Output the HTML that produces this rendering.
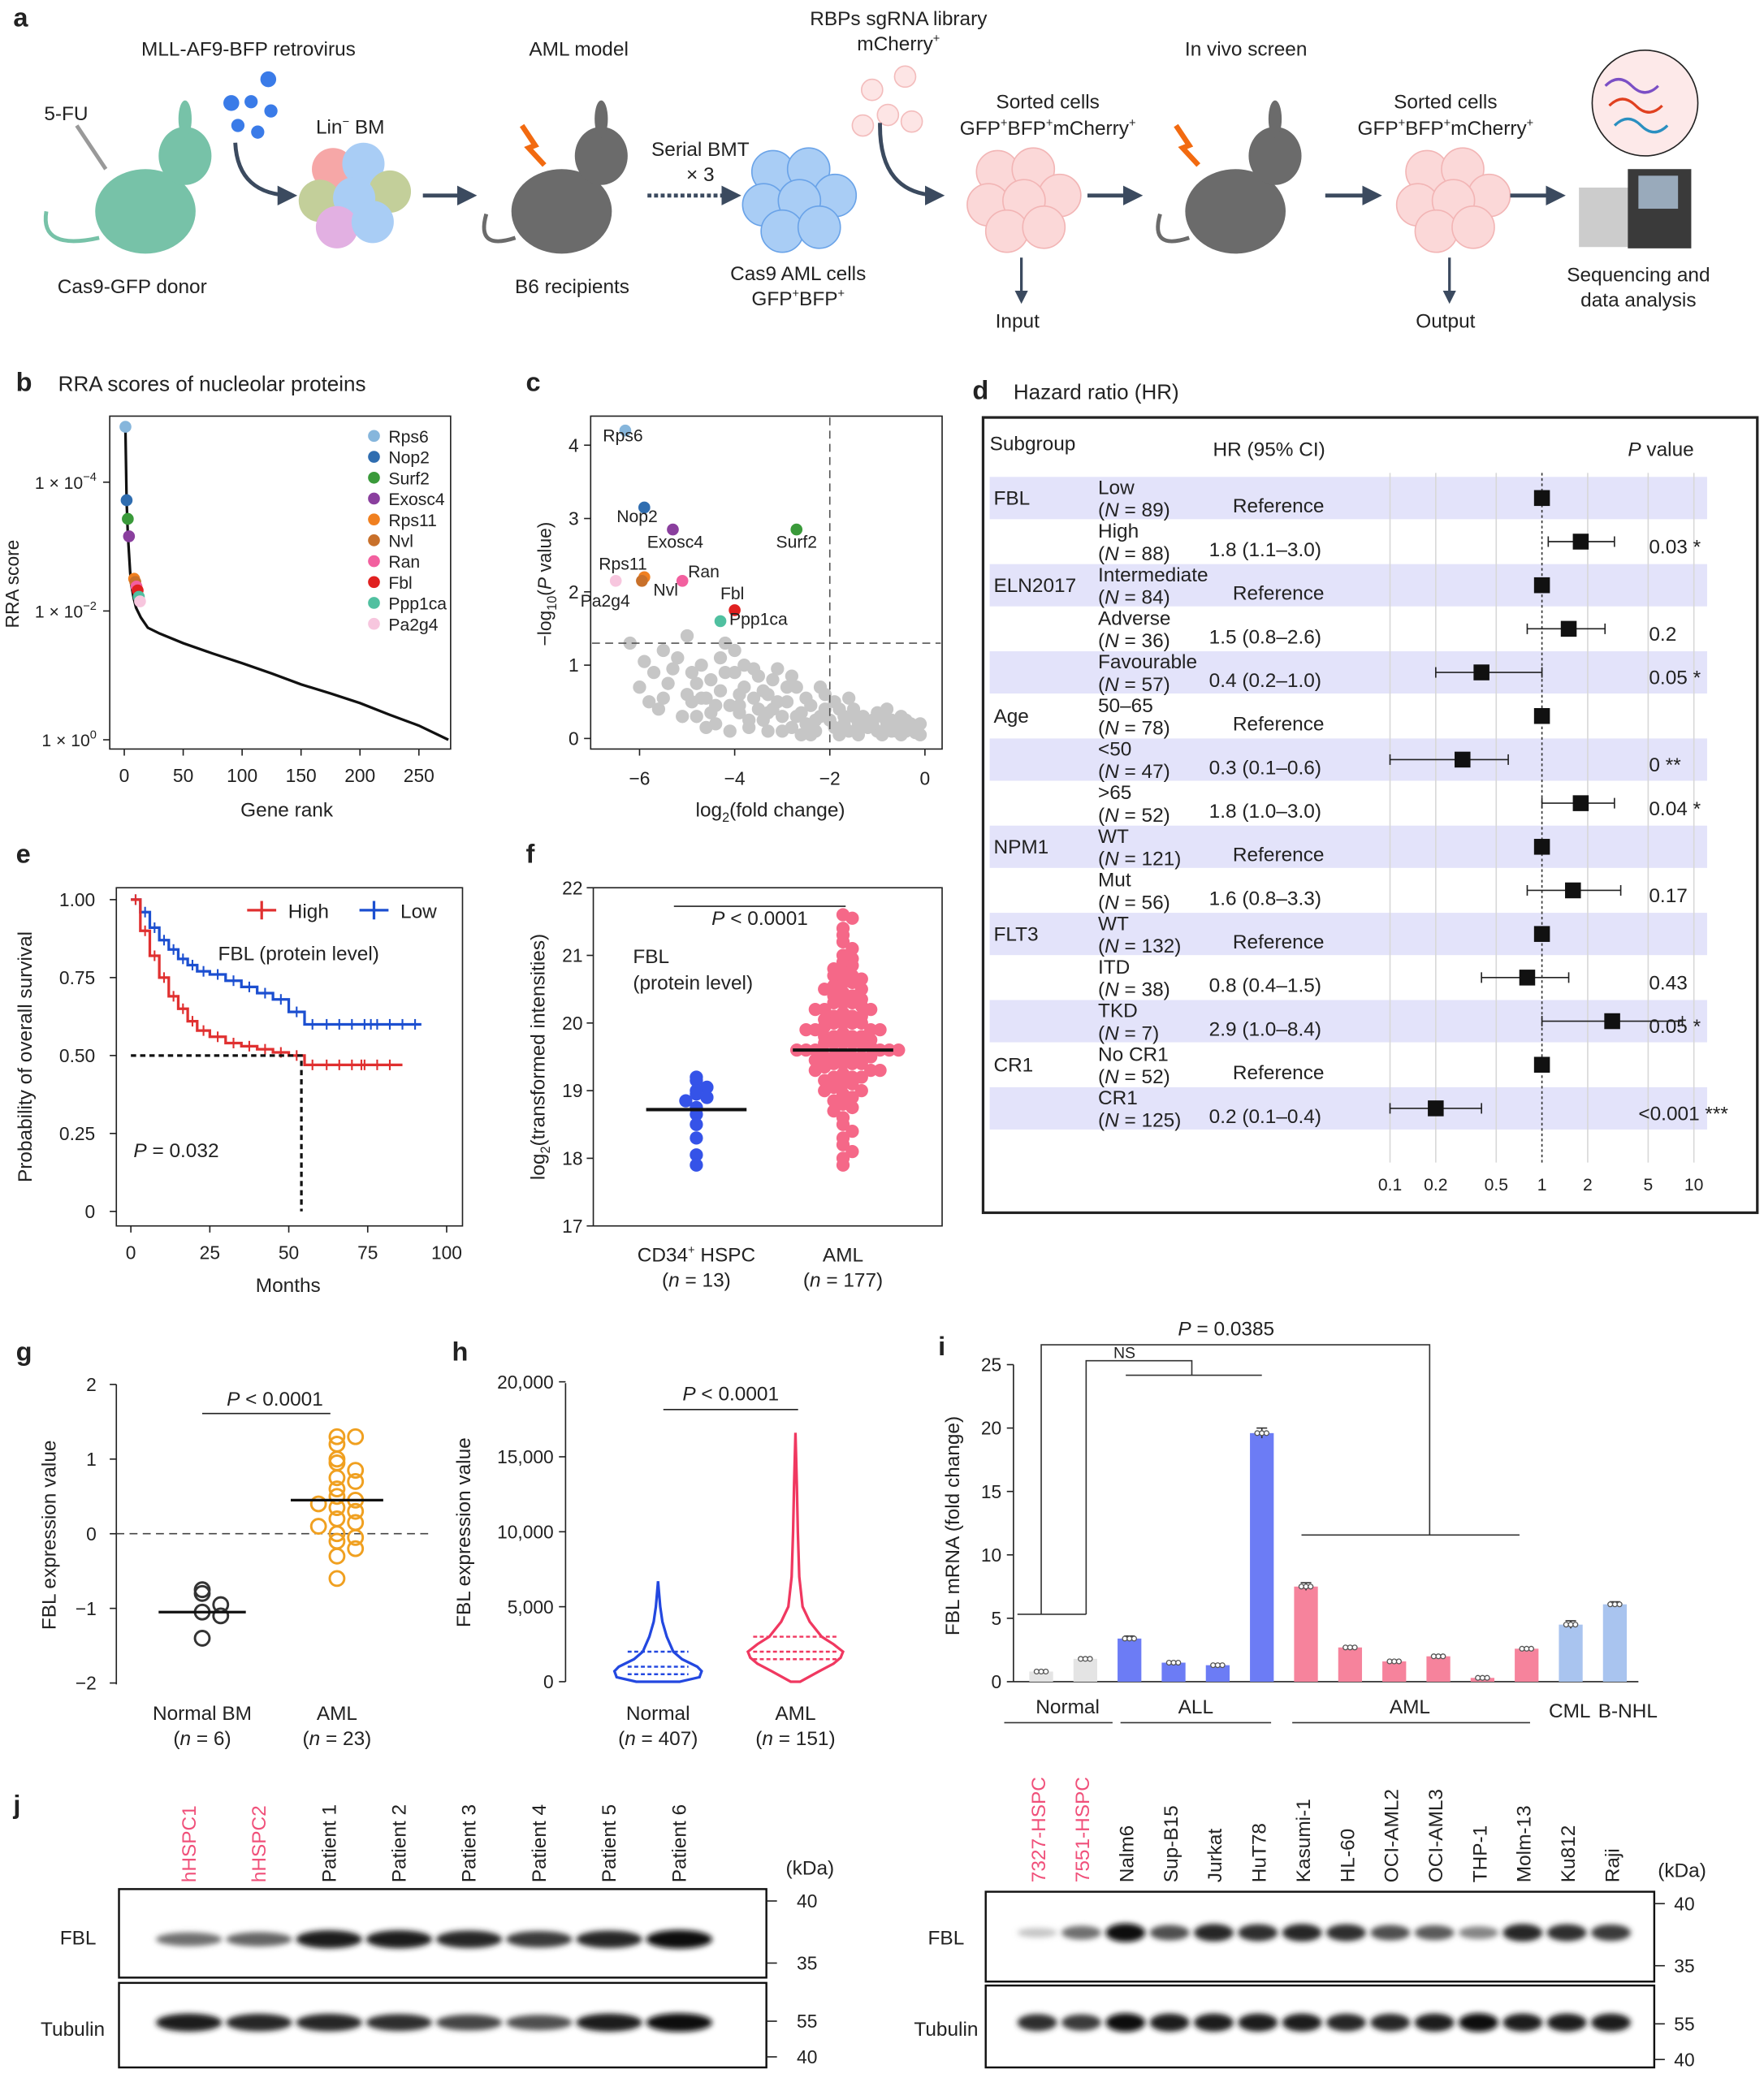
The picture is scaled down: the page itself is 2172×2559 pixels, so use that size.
<!DOCTYPE html>
<html><head><meta charset="utf-8"><style>
html,body{margin:0;padding:0;background:#fff}
svg{display:block;font-family:"Liberation Sans",sans-serif}
text:not([fill]){fill:#222}
</style></head><body>
<svg id="fig" xmlns="http://www.w3.org/2000/svg" width="2172" height="2559" viewBox="0 0 1335 1573">
<defs>
<filter id="blur" x="-20%" y="-100%" width="140%" height="300%"><feGaussianBlur stdDeviation="2.2"/></filter>
<marker id="arr" viewBox="0 0 10 10" refX="8" refY="5" markerWidth="5" markerHeight="5" orient="auto"><path d="M0,0L10,5L0,10z" fill="#3b4a5f"/></marker>
</defs>
<!-- Panel a -->
<g font-size="15">
<text x="10" y="20" font-weight="bold" font-size="20">a</text>
<text x="188" y="42" text-anchor="middle">MLL-AF9-BFP retrovirus</text>
<text x="438" y="42" text-anchor="middle">AML model</text>
<text x="680" y="19" text-anchor="middle">RBPs sgRNA library</text>
<text x="680" y="38" text-anchor="middle">mCherry<tspan font-size="9" dy="-6">+</tspan></text>
<text x="943" y="42" text-anchor="middle">In vivo screen</text>
<text x="50" y="91" text-anchor="middle">5-FU</text>
<text x="265" y="101" text-anchor="middle">Lin<tspan font-size="9" dy="-6">−</tspan><tspan dy="6"> BM</tspan></text>
<text x="530" y="118" text-anchor="middle">Serial BMT</text>
<text x="530" y="137" text-anchor="middle">× 3</text>
<text x="793" y="82" text-anchor="middle">Sorted cells</text>
<text x="793" y="102" text-anchor="middle">GFP<tspan font-size="9" dy="-6">+</tspan><tspan dy="6">BFP</tspan><tspan font-size="9" dy="-6">+</tspan><tspan dy="6">mCherry</tspan><tspan font-size="9" dy="-6">+</tspan></text>
<text x="1094" y="82" text-anchor="middle">Sorted cells</text>
<text x="1094" y="102" text-anchor="middle">GFP<tspan font-size="9" dy="-6">+</tspan><tspan dy="6">BFP</tspan><tspan font-size="9" dy="-6">+</tspan><tspan dy="6">mCherry</tspan><tspan font-size="9" dy="-6">+</tspan></text>
<text x="100" y="222" text-anchor="middle">Cas9-GFP donor</text>
<text x="433" y="222" text-anchor="middle">B6 recipients</text>
<text x="604" y="212" text-anchor="middle">Cas9 AML cells</text>
<text x="604" y="231" text-anchor="middle">GFP<tspan font-size="9" dy="-6">+</tspan><tspan dy="6">BFP</tspan><tspan font-size="9" dy="-6">+</tspan></text>
<text x="770" y="248" text-anchor="middle">Input</text>
<text x="1094" y="248" text-anchor="middle">Output</text>
<text x="1240" y="213" text-anchor="middle">Sequencing and</text>
<text x="1240" y="232" text-anchor="middle">data analysis</text>
<g fill="#77c2a8"><ellipse cx="110" cy="160" rx="38" ry="32"/><ellipse cx="140" cy="118" rx="20" ry="22"/><ellipse cx="140" cy="90" rx="5" ry="14"/><path d="M75,180 Q30,190 35,160" stroke="#77c2a8" stroke-width="3" fill="none"/></g>
<line x1="58" y1="95" x2="80" y2="128" stroke="#999" stroke-width="3"/>
<g fill="#6b6b6b"><ellipse cx="425" cy="160" rx="38" ry="32"/><ellipse cx="455" cy="118" rx="20" ry="22"/><ellipse cx="455" cy="90" rx="5" ry="14"/><path d="M390,180 Q360,190 368,162" stroke="#6b6b6b" stroke-width="3" fill="none"/></g>
<g fill="#6b6b6b"><ellipse cx="935" cy="160" rx="38" ry="32"/><ellipse cx="965" cy="118" rx="20" ry="22"/><ellipse cx="965" cy="90" rx="5" ry="14"/><path d="M900,180 Q870,190 878,162" stroke="#6b6b6b" stroke-width="3" fill="none"/></g>
<path d="M395,95 L405,110 L400,112 L412,125" stroke="#f26a10" stroke-width="4" fill="none"/>
<path d="M890,95 L900,110 L895,112 L907,125" stroke="#f26a10" stroke-width="4" fill="none"/>
<g stroke-width="1">
<circle cx="252" cy="128" r="16" fill="#f6a7a7"/><circle cx="275" cy="124" r="16" fill="#a9cdf5"/><circle cx="242" cy="152" r="16" fill="#c3cf9a"/><circle cx="295" cy="145" r="16" fill="#c3cf9a"/><circle cx="268" cy="150" r="16" fill="#a9cdf5"/><circle cx="255" cy="172" r="16" fill="#e2b0e2"/><circle cx="282" cy="168" r="16" fill="#a9cdf5"/></g>
<g fill="#a9cdf5" stroke="#6aa3e8">
<circle cx="585" cy="130" r="16"/><circle cx="612" cy="128" r="16"/><circle cx="632" cy="148" r="16"/><circle cx="578" cy="155" r="16"/><circle cx="605" cy="152" r="16"/><circle cx="592" cy="175" r="16"/><circle cx="620" cy="172" r="16"/></g>
<g fill="#fbd8d8" stroke="#f2b5b5">
<circle cx="755" cy="130" r="16"/><circle cx="782" cy="128" r="16"/><circle cx="802" cy="148" r="16"/><circle cx="748" cy="155" r="16"/><circle cx="775" cy="152" r="16"/><circle cx="762" cy="175" r="16"/><circle cx="790" cy="172" r="16"/></g>
<g fill="#fbd8d8" stroke="#f2b5b5">
<circle cx="1080" cy="130" r="16"/><circle cx="1107" cy="128" r="16"/><circle cx="1127" cy="148" r="16"/><circle cx="1073" cy="155" r="16"/><circle cx="1100" cy="152" r="16"/><circle cx="1087" cy="175" r="16"/><circle cx="1115" cy="172" r="16"/></g>
<g fill="#3a7be8"><circle cx="175" cy="78" r="6"/><circle cx="203" cy="60" r="6"/><circle cx="190" cy="77" r="5"/><circle cx="205" cy="84" r="5"/><circle cx="180" cy="95" r="5"/><circle cx="195" cy="100" r="5"/></g>
<g fill="#fde5e5" stroke="#f3bcbc"><circle cx="660" cy="68" r="8"/><circle cx="685" cy="58" r="8"/><circle cx="672" cy="87" r="8"/><circle cx="690" cy="92" r="8"/><circle cx="653" cy="95" r="8"/></g>
<circle cx="1245" cy="78" r="40" fill="#fde9e9" stroke="#222"/>
<g stroke="#7b4fc5" stroke-width="2" fill="none"><path d="M1215,65 q10,-10 20,0 t20,0"/><path d="M1218,80 q10,-10 20,0 t20,0" stroke="#e04020"/><path d="M1222,95 q10,-10 20,0 t20,0" stroke="#2a8fc0"/></g>
<rect x="1195" y="142" width="40" height="45" fill="#ccc"/><rect x="1232" y="128" width="48" height="60" fill="#3a3a3a"/><rect x="1240" y="133" width="30" height="25" fill="#99aabb"/>
<g stroke="#3b4a5f" stroke-width="3" fill="none" marker-end="url(#arr)">
<path d="M178,108 Q180,148 222,148"/><line x1="320" y1="148" x2="358" y2="148"/><line x1="490" y1="148" x2="558" y2="148" stroke-dasharray="3,2"/>
<path d="M666,93 Q665,148 712,148"/><line x1="823" y1="148" x2="862" y2="148"/><line x1="1003" y1="148" x2="1043" y2="148"/><line x1="1143" y1="148" x2="1182" y2="148"/>
<line x1="773" y1="195" x2="773" y2="228" stroke-width="2"/><line x1="1097" y1="195" x2="1097" y2="228" stroke-width="2"/></g>
</g>

<!-- Panel b -->
<g>
<text x="12" y="296" font-weight="bold" font-size="20">b</text>
<text x="44" y="296" font-size="16">RRA scores of nucleolar proteins</text>
<rect x="83" y="315" width="258" height="252" fill="none" stroke="#222"/>
<text x="14" y="442" font-size="14" transform="rotate(-90 14 442)" text-anchor="middle">RRA score</text>
<text x="217" y="618" font-size="15" text-anchor="middle">Gene rank</text>
<g id="gb"></g>
</g>

<!-- Panel c -->
<g>
<text x="398" y="296" font-weight="bold" font-size="20">c</text>
<rect x="447" y="315" width="266" height="252" fill="none" stroke="#222"/>
<text x="417" y="442" font-size="14" transform="rotate(-90 417 442)" text-anchor="middle">−log<tspan font-size="10" dy="4">10</tspan><tspan dy="-4">(</tspan><tspan font-style="italic">P</tspan> value)</text>
<text x="583" y="618" font-size="15" text-anchor="middle">log<tspan font-size="10" dy="4">2</tspan><tspan dy="-4">(fold change)</tspan></text>
<g id="gc"></g>
</g>

<!-- Panel d -->
<g font-size="15">
<text x="736" y="302" font-weight="bold" font-size="20">d</text>
<text x="767" y="302" font-size="16">Hazard ratio (HR)</text>
<rect x="744" y="316" width="586" height="602" fill="none" stroke="#222" stroke-width="2"/>
<text x="749" y="341">Subgroup</text><text x="918" y="345">HR (95% CI)</text><text x="1232" y="345"><tspan font-style="italic">P</tspan> value</text>
<g id="gd"></g>
</g>

<!-- Panel e -->
<g>
<text x="12" y="653" font-weight="bold" font-size="20">e</text>
<rect x="88" y="672" width="262" height="256" fill="none" stroke="#222"/>
<text x="24" y="800" font-size="15" transform="rotate(-90 24 800)" text-anchor="middle">Probability of overall survival</text>
<text x="218" y="978" font-size="15" text-anchor="middle">Months</text>
<line x1="187" y1="689" x2="209" y2="689" stroke="#e03030" stroke-width="2"/><line x1="198" y1="682" x2="198" y2="696" stroke="#e03030" stroke-width="2"/>
<text x="218" y="695" font-size="15">High</text>
<line x1="272" y1="689" x2="294" y2="689" stroke="#1c4fd0" stroke-width="2"/><line x1="283" y1="682" x2="283" y2="696" stroke="#1c4fd0" stroke-width="2"/>
<text x="303" y="695" font-size="15">Low</text>
<text x="165" y="727" font-size="15">FBL (protein level)</text>
<text x="101" y="876" font-size="15"><tspan font-style="italic">P</tspan> = 0.032</text>
<g id="ge"></g>
</g>

<!-- Panel f -->
<g>
<text x="398" y="653" font-weight="bold" font-size="20">f</text>
<rect x="449" y="672" width="264" height="256" fill="none" stroke="#222"/>
<text x="412" y="800" font-size="15" transform="rotate(-90 412 800)" text-anchor="middle">log<tspan font-size="10" dy="4">2</tspan><tspan dy="-4">(transformed intensities)</tspan></text>
<text x="479" y="729" font-size="15">FBL</text><text x="479" y="749" font-size="15">(protein level)</text>
<line x1="510" y1="686" x2="640" y2="686" stroke="#222"/>
<text x="575" y="700" font-size="15" text-anchor="middle"><tspan font-style="italic">P</tspan> &lt; 0.0001</text>
<text x="527" y="955" font-size="15" text-anchor="middle">CD34<tspan font-size="9" dy="-6">+</tspan><tspan dy="6"> HSPC</tspan></text>
<text x="527" y="974" font-size="15" text-anchor="middle">(<tspan font-style="italic">n</tspan> = 13)</text>
<text x="638" y="955" font-size="15" text-anchor="middle">AML</text>
<text x="638" y="974" font-size="15" text-anchor="middle">(<tspan font-style="italic">n</tspan> = 177)</text>
<g id="gf"></g>
</g>

<!-- Panel g -->
<g>
<text x="12" y="1030" font-weight="bold" font-size="20">g</text>
<text x="42" y="1162" font-size="15" transform="rotate(-90 42 1162)" text-anchor="middle">FBL expression value</text>
<line x1="153" y1="1070" x2="250" y2="1070" stroke="#222"/>
<text x="208" y="1064" font-size="15" text-anchor="middle"><tspan font-style="italic">P</tspan> &lt; 0.0001</text>
<text x="153" y="1302" font-size="15" text-anchor="middle">Normal BM</text><text x="153" y="1321" font-size="15" text-anchor="middle">(<tspan font-style="italic">n</tspan> = 6)</text>
<text x="255" y="1302" font-size="15" text-anchor="middle">AML</text><text x="255" y="1321" font-size="15" text-anchor="middle">(<tspan font-style="italic">n</tspan> = 23)</text>
<g id="gg"></g>
</g>

<!-- Panel h -->
<g>
<text x="342" y="1030" font-weight="bold" font-size="20">h</text>
<text x="356" y="1160" font-size="15" transform="rotate(-90 356 1160)" text-anchor="middle">FBL expression value</text>
<line x1="502" y1="1067" x2="604" y2="1067" stroke="#222"/>
<text x="553" y="1060" font-size="15" text-anchor="middle"><tspan font-style="italic">P</tspan> &lt; 0.0001</text>
<text x="498" y="1302" font-size="15" text-anchor="middle">Normal</text><text x="498" y="1321" font-size="15" text-anchor="middle">(<tspan font-style="italic">n</tspan> = 407)</text>
<text x="602" y="1302" font-size="15" text-anchor="middle">AML</text><text x="602" y="1321" font-size="15" text-anchor="middle">(<tspan font-style="italic">n</tspan> = 151)</text>
<g id="gh"></g>
</g>

<!-- Panel i -->
<g>
<text x="710" y="1026" font-weight="bold" font-size="20">i</text>
<text x="726" y="1155" font-size="15" transform="rotate(-90 726 1155)" text-anchor="middle">FBL mRNA (fold change)</text>
<text x="928" y="1011" font-size="15" text-anchor="middle"><tspan font-style="italic">P</tspan> = 0.0385</text>
<text x="851" y="1028" font-size="12" text-anchor="middle">NS</text>
<g stroke="#333" fill="none">
<path d="M788,1222 L788,1018 L1082,1018 L1082,1162"/><line x1="985" y1="1162" x2="1150" y2="1162"/>
<path d="M822,1222 L822,1030 L902,1030 L902,1041"/><line x1="852" y1="1041" x2="955" y2="1041"/>
<line x1="770" y1="1222" x2="822" y2="1222"/>
<line x1="760" y1="1304" x2="842" y2="1304"/><line x1="848" y1="1304" x2="962" y2="1304"/><line x1="978" y1="1304" x2="1158" y2="1304"/>
</g>
<text x="808" y="1297" font-size="15" text-anchor="middle">Normal</text>
<text x="905" y="1297" font-size="15" text-anchor="middle">ALL</text>
<text x="1067" y="1297" font-size="15" text-anchor="middle">AML</text>
<text x="1188" y="1300" font-size="15" text-anchor="middle">CML</text>
<text x="1232" y="1300" font-size="15" text-anchor="middle">B-NHL</text>
<g id="gi"></g>
</g>

<!-- Panel j -->
<g font-size="15">
<text x="10" y="1373" font-weight="bold" font-size="20">j</text>
<text x="59" y="1472" text-anchor="middle">FBL</text><text x="55" y="1541" text-anchor="middle">Tubulin</text>
<text x="716" y="1472" text-anchor="middle">FBL</text><text x="716" y="1541" text-anchor="middle">Tubulin</text>
<text x="613" y="1419" text-anchor="middle">(kDa)</text><text x="1273" y="1421" text-anchor="middle">(kDa)</text>
<g id="gj"></g>
</g>
</svg>
<script>
var NS='http://www.w3.org/2000/svg';
function mk(parent,tag,attrs,name,txt){
 var el=document.createElementNS(NS,tag);
 for(var k in attrs) el.setAttribute(k,attrs[k]);
 
 
 if(txt!==undefined) el.textContent=txt;
 parent.appendChild(el); return el;
}
function G(id){return document.getElementById(id);}

/* ---------- Panel b data ---------- */
var bRanks=[1,2,3,4,5,6,7,8,10,14,20,30,50,75,100,125,150,175,200,225,250,275];
var bExp=[-4.8,-3.7,-3.2,-2.9,-2.6,-2.4,-2.3,-2.2,-2.05,-1.9,-1.74,-1.65,-1.5,-1.34,-1.19,-1.03,-0.86,-0.72,-0.57,-0.39,-0.22,0];
var bGenes=['Rps6','Nop2','Surf2','Exosc4','Rps11','Nvl','Ran','Fbl','Ppp1ca','Pa2g4'];
var bGeneRank=[1,2,3,4,5,6,7,8,9,10];
var bGeneExp=[-4.86,-3.72,-3.43,-3.16,-2.5,-2.45,-2.38,-2.32,-2.22,-2.15];
var geneColors=['#86b6dc','#2f6db0','#3a9a3a','#8a3f9e','#f08020','#c8702a','#f2609f','#e02020','#50c0a0','#f7c6de'];
var bTicks=[0,50,100,150,200,250];
var bYTicks=[-4,-2,0];
(function(){
 var g=G('gb'); var X=function(r){return 94+r*0.892;}, Y=function(e){return 560+e*48.75;};
 var d=''; for(var i=0;i<bRanks.length;i++) d+=(i?'L':'M')+X(bRanks[i])+','+Y(bExp[i]);
 mk(g,'path',{d:d,stroke:'#111','stroke-width':2,fill:'none'},'rra-curve');
 for(var i=0;i<bTicks.length;i++){var x=X(bTicks[i]);mk(g,'line',{x1:x,x2:x,y1:567,y2:572,stroke:'#222'},'x-tick-b');mk(g,'text',{x:x,y:592,'font-size':14,'text-anchor':'middle'},'x-tick-label-b',bTicks[i]);}
 for(var i=0;i<bYTicks.length;i++){var y=Y(bYTicks[i]);mk(g,'line',{x1:78,x2:83,y1:y,y2:y,stroke:'#222'},'y-tick-b');
  var t=mk(g,'text',{x:73,y:y+5,'font-size':13,'text-anchor':'end'},'y-tick-label-b','1 × 10');var s=document.createElementNS(NS,'tspan');s.setAttribute('dy','-6');s.setAttribute('font-size','9');s.textContent=bYTicks[i]==0?'0':'−'+(-bYTicks[i]);t.appendChild(s);}
 for(var i=0;i<bGenes.length;i++){
  mk(g,'circle',{cx:X(bGeneRank[i])+ (i>3?3:0),cy:Y(bGeneExp[i]),r:4.5,fill:geneColors[i]},'gene-point-'+bGenes[i].toLowerCase());
  mk(g,'circle',{cx:283,cy:330+i*15.8,r:4.5,fill:geneColors[i]},'legend-marker');
  mk(g,'text',{x:294,y:335+i*15.8,'font-size':13},'legend-entry',bGenes[i]);
 }
})();

/* ---------- Panel c data ---------- */
var cNamedX=[-6.3,-5.9,-2.7,-5.3,-5.9,-5.95,-5.1,-4.0,-4.3,-6.5];
var cNamedY=[4.2,3.15,2.85,2.85,2.2,2.15,2.15,1.75,1.6,2.15];
var cGrayX=[-6.2,-5.9,-5.7,-5.5,-6.0,-5.3,-5.8,-5.6,-5.4,-5.2,-5.0,-4.9,-4.8,-4.7,-4.6,-4.5,-4.4,-4.3,-4.2,-4.1,-4.0,-3.9,-3.8,-3.7,-3.6,-3.5,-3.4,-3.3,-3.2,-3.1,-3.0,-2.9,-2.8,-2.7,-2.6,-2.5,-2.4,-2.3,-2.2,-2.1,-2.0,-1.9,-1.8,-1.7,-1.6,-1.5,-1.4,-1.3,-1.2,-1.1,-1.0,-0.9,-0.8,-0.7,-0.6,-0.5,-0.4,-0.3,-0.2,-0.1,
 -5.1,-4.9,-4.6,-4.4,-4.2,-3.9,-3.7,-3.5,-3.3,-3.1,-2.9,-2.7,-2.5,-2.3,-2.1,-1.9,-1.7,-1.5,-1.3,-1.1,-0.9,-0.7,-0.5,-0.3,-0.1,
 -4.8,-4.5,-4.1,-3.8,-3.4,-3.0,-2.6,-2.2,-1.8,-1.4,-1.0,-0.6,-0.2,-5.5,-4.3,-3.6,-2.8,-2.4,-1.6,-0.8,-0.4,-3.2,-4.7,-5.0,-4.0,-3.9,-3.3];
var cGrayY=[1.3,1.05,0.9,1.2,0.7,0.95,0.5,0.4,0.75,1.1,0.6,0.9,0.3,1.0,0.55,0.8,0.2,0.65,1.3,0.45,0.9,0.35,0.7,0.15,0.55,0.85,0.25,0.6,0.4,0.95,0.3,0.5,0.15,0.7,0.35,0.2,0.45,0.1,0.3,0.6,0.25,0.15,0.4,0.2,0.1,0.3,0.05,0.2,0.15,0.25,0.1,0.05,0.2,0.1,0.15,0.05,0.1,0.2,0.08,0.05,
 0.3,0.5,0.15,0.45,0.9,0.6,0.25,0.4,0.1,0.5,0.7,0.3,0.55,0.25,0.4,0.5,0.3,0.4,0.3,0.2,0.3,0.25,0.3,0.15,0.2,
 0.75,0.35,0.1,1.0,0.65,0.1,0.05,0.7,0.05,0.2,0.35,0.1,0.12,0.55,1.1,0.95,0.85,0.05,0.55,0.4,0.25,0.8,0.55,1.4,1.2,0.45,0.35];
var cXTicks=[-6,-4,-2,0];
var cYTicks=[0,1,2,3,4];
(function(){
 var g=G('gc'); var X=function(v){return 700+v*36;}, Y=function(v){return 559-v*55.5;};
 for(var i=0;i<cGrayX.length;i++) mk(g,'circle',{cx:X(cGrayX[i]),cy:Y(cGrayY[i]),r:5,fill:'#c6c6c6'},'gray-gene-point');
 mk(g,'line',{x1:X(-2),x2:X(-2),y1:316,y2:566,stroke:'#555','stroke-dasharray':'6,4'},'fc-threshold-line');
 mk(g,'line',{x1:448,x2:712,y1:Y(1.3),y2:Y(1.3),stroke:'#555','stroke-dasharray':'6,4'},'p-threshold-line');
 var lx=[-6.35,-6.05,-2.7,-5.25,-6.35,-5.45,-4.65,-4.05,-3.5,-6.5], ly=[4.05,2.95,2.6,2.6,2.3,1.95,2.2,1.9,1.55,1.8];
 for(var i=0;i<bGenes.length;i++){mk(g,'circle',{cx:X(cNamedX[i]),cy:Y(cNamedY[i]),r:4.5,fill:geneColors[i]},'gene-point-'+bGenes[i].toLowerCase());
  mk(g,'text',{x:X(lx[i])+ (i==9?-8:0),y:Y(ly[i]),'font-size':13,'text-anchor':'middle'},'gene-label',bGenes[i]);}
 for(var i=0;i<cXTicks.length;i++){var x=X(cXTicks[i]);mk(g,'line',{x1:x,x2:x,y1:567,y2:572,stroke:'#222'},'x-tick-c');mk(g,'text',{x:x,y:594,'font-size':14,'text-anchor':'middle'},'x-tick-label-c',cXTicks[i]<0?'−'+(-cXTicks[i]):cXTicks[i]);}
 for(var i=0;i<cYTicks.length;i++){var y=Y(cYTicks[i]);mk(g,'line',{x1:442,x2:447,y1:y,y2:y,stroke:'#222'},'y-tick-c');mk(g,'text',{x:438,y:y+5,'font-size':14,'text-anchor':'end'},'y-tick-label-c',cYTicks[i]);}
})();

/* ---------- Panel d data ---------- */
var dGroups=['FBL','','ELN2017','','','Age','','','NPM1','','FLT3','','','CR1',''];
var dLevels=['Low','High','Intermediate','Adverse','Favourable','50–65','<50','>65','WT','Mut','WT','ITD','TKD','No CR1','CR1'];
var dN=[89,88,84,36,57,78,47,52,121,56,132,38,7,52,125];
var dHR=[1,1.8,1,1.5,0.4,1,0.3,1.8,1,1.6,1,0.8,2.9,1,0.2];
var dLo=[1,1.1,1,0.8,0.2,1,0.1,1.0,1,0.8,1,0.4,1.0,1,0.1];
var dHi=[1,3.0,1,2.6,1.0,1,0.6,3.0,1,3.3,1,1.5,8.4,1,0.4];
var dCI=['Reference','1.8 (1.1–3.0)','Reference','1.5 (0.8–2.6)','0.4 (0.2–1.0)','Reference','0.3 (0.1–0.6)','1.8 (1.0–3.0)','Reference','1.6 (0.8–3.3)','Reference','0.8 (0.4–1.5)','2.9 (1.0–8.4)','Reference','0.2 (0.1–0.4)'];
var dP=['','0.03 *','','0.2','0.05 *','','0 **','0.04 *','','0.17','','0.43','0.05 *','','<0.001 ***'];
var dTicks=[0.1,0.2,0.5,1,2,5,10];
(function(){
 var g=G('gd'); var X=function(v){return 1167+Math.log10(v)*115;};
 for(var i=0;i<dLevels.length;i++){var y=377+i*33;
  if(i%2==0) mk(g,'rect',{x:749,y:y-16,width:543,height:32,fill:'#e3e3fa'},'row-shade');}
 for(var i=0;i<dTicks.length;i++){var x=X(dTicks[i]);mk(g,'line',{x1:x,x2:x,y1:358,y2:880,stroke:i==3?'#333':'#d8d8d8','stroke-dasharray':i==3?'2,2':'none'},'grid-line-d');
  mk(g,'text',{x:x,y:901,'font-size':13,'text-anchor':'middle'},'x-tick-label-d',dTicks[i]);}
 for(var i=0;i<dLevels.length;i++){var y=377+i*33;
  if(dGroups[i]) mk(g,'text',{x:752,y:y+5,'font-size':15},'subgroup-label',dGroups[i]);
  mk(g,'text',{x:831,y:y-3,'font-size':15},'level-label',dLevels[i]);
  var t=mk(g,'text',{x:831,y:y+14,'font-size':15},'n-label','(');var s=document.createElementNS(NS,'tspan');s.setAttribute('font-style','italic');s.textContent='N';t.appendChild(s);t.appendChild(document.createTextNode(' = '+dN[i]+')'));
  mk(g,'text',{x:dCI[i]=='Reference'?933:915,y:y+11,'font-size':15},'hr-ci-label',dCI[i]);
  mk(g,'text',{x:dP[i].indexOf('<')==0?1240:1248,y:y+9,'font-size':15},'p-value-label',dP[i]);
  if(dLo[i]!=dHi[i]){mk(g,'line',{x1:X(dLo[i]),x2:X(dHi[i]),y1:y,y2:y,stroke:'#222'},'ci-line');
   mk(g,'line',{x1:X(dLo[i]),x2:X(dLo[i]),y1:y-4,y2:y+4,stroke:'#222'},'ci-cap');mk(g,'line',{x1:X(dHi[i]),x2:X(dHi[i]),y1:y-4,y2:y+4,stroke:'#222'},'ci-cap');}
  mk(g,'rect',{x:X(dHR[i])-6,y:y-6,width:12,height:12,fill:'#111'},'hr-marker');
 }
})();

/* ---------- Panel e data ---------- */
var eHighT=[0,3,6,9,12,15,18,21,25,30,35,40,45,50,55,60,86];
var eHighS=[1,0.9,0.82,0.75,0.69,0.65,0.61,0.58,0.56,0.54,0.53,0.52,0.51,0.5,0.47,0.47,0.47];
var eLowT=[0,3,6,9,12,15,18,21,25,30,35,40,45,50,55,60,92];
var eLowS=[1,0.96,0.91,0.87,0.84,0.81,0.79,0.77,0.76,0.74,0.72,0.70,0.68,0.64,0.60,0.60,0.60];
var eXTicks=[0,25,50,75,100];
var eYTicks=[0,0.25,0.5,0.75,1.0];
(function(){
 var g=G('ge'); var X=function(v){return 99+v*2.39;}, Y=function(v){return 917-v*236;};
 function km(T,S,c,nm){var d='M'+X(T[0])+','+Y(S[0]);for(var i=1;i<T.length;i++){d+='L'+X(T[i])+','+Y(S[i-1])+'L'+X(T[i])+','+Y(S[i]);}
  mk(g,'path',{d:d,stroke:c,'stroke-width':2,fill:'none'},nm);
  for(var i=1;i<T.length;i++){var x=X((T[i-1]+T[i])/2);mk(g,'line',{x1:x,x2:x,y1:Y(S[i-1])-4,y2:Y(S[i-1])+4,stroke:c,'stroke-width':1.3},'censor-tick');}
  for(var k=62;k<T[T.length-1];k+=4){var x=X(k);mk(g,'line',{x1:x,x2:x,y1:Y(S[S.length-1])-4,y2:Y(S[S.length-1])+4,stroke:c,'stroke-width':1.3},'censor-tick');}}
 km(eLowT,eLowS,'#1c4fd0','km-low');km(eHighT,eHighS,'#e03030','km-high');
 mk(g,'path',{d:'M'+X(0)+','+Y(0.5)+'L'+X(54)+','+Y(0.5)+'L'+X(54)+','+Y(0),stroke:'#111','stroke-width':2,'stroke-dasharray':'4,3',fill:'none'},'median-line');
 for(var i=0;i<eXTicks.length;i++){var x=X(eXTicks[i]);mk(g,'line',{x1:x,x2:x,y1:928,y2:933,stroke:'#222'},'x-tick-e');mk(g,'text',{x:x,y:953,'font-size':14,'text-anchor':'middle'},'x-tick-label-e',eXTicks[i]);}
 for(var i=0;i<eYTicks.length;i++){var y=Y(eYTicks[i]);mk(g,'line',{x1:83,x2:88,y1:y,y2:y,stroke:'#222'},'y-tick-e');mk(g,'text',{x:72,y:y+5,'font-size':14,'text-anchor':'end'},'y-tick-label-e',eYTicks[i]==0?'0':eYTicks[i].toFixed(2));}
})();

/* ---------- Panel f data ---------- */
var fHSPC=[19.2,19.15,19.05,19.0,18.95,18.9,18.85,18.75,18.65,18.5,18.3,18.05,17.9];
var fAML=[21.6,21.55,21.4,21.3,21.2,21.1,21.0,20.95,20.9,20.85,20.8,20.75,20.7,20.7,20.65,20.6,20.6,20.55,20.5,20.5,20.45,20.4,20.4,20.35,20.3,20.3,20.3,20.25,20.2,20.2,20.2,20.15,20.1,20.1,20.1,20.05,20.0,20.0,20.0,20.0,19.95,19.9,19.9,19.9,19.9,19.85,19.8,19.8,19.8,19.8,19.75,19.7,19.7,19.7,19.7,19.7,19.65,19.6,19.6,19.6,19.6,19.6,19.6,19.55,19.5,19.5,19.5,19.5,19.5,19.45,19.4,19.4,19.4,19.4,19.35,19.3,19.3,19.3,19.25,19.2,19.2,19.2,19.15,19.1,19.1,19.05,19.0,19.0,18.95,18.9,18.85,18.8,18.75,18.7,18.6,18.5,18.4,18.3,18.2,18.1,18.0,17.9];
var fMeans=[18.72,19.6];
var fYTicks=[17,18,19,20,21,22];
(function(){
 var g=G('gf'); var Y=function(v){return 928-(v-17)*51.2;};
 function swarm(vals,cx,c,nm,step,bw){var bins={};for(var i=0;i<vals.length;i++){var b=Math.round(vals[i]/bw);bins[b]=(bins[b]||0)+1;var k=bins[b]-1;var off=(k%2?1:-1)*Math.ceil(k/2)*step;
  mk(g,'circle',{cx:cx+off,cy:Y(vals[i]),r:5,fill:c},nm);}}
 swarm(fHSPC,527,'#3553e8','hspc-point',8,0.1);swarm(fAML,638,'#f56888','aml-point',7,0.15);
 mk(g,'line',{x1:489,x2:565,y1:Y(fMeans[0]),y2:Y(fMeans[0]),stroke:'#111','stroke-width':2.5},'mean-line-hspc');
 mk(g,'line',{x1:600,x2:676,y1:Y(fMeans[1]),y2:Y(fMeans[1]),stroke:'#111','stroke-width':2.5},'mean-line-aml');
 for(var i=0;i<fYTicks.length;i++){var y=Y(fYTicks[i]);mk(g,'line',{x1:444,x2:449,y1:y,y2:y,stroke:'#222'},'y-tick-f');mk(g,'text',{x:441,y:y+5,'font-size':14,'text-anchor':'end'},'y-tick-label-f',fYTicks[i]);}
})();

/* ---------- Panel g data ---------- */
var gNormal=[-0.75,-0.8,-0.95,-1.05,-1.1,-1.4];
var gAML=[1.3,1.3,1.2,1.0,0.95,0.85,0.75,0.7,0.6,0.5,0.45,0.4,0.35,0.3,0.2,0.15,0.1,0.0,-0.05,-0.1,-0.2,-0.3,-0.6];
var gMeans=[-1.05,0.45];
var gYTicks=[-2,-1,0,1,2];
(function(){
 var g=G('gg'); var Y=function(v){return 1161-v*56.5;};
 mk(g,'line',{x1:88,x2:88,y1:1048,y2:1275,stroke:'#222'},'y-axis-g');
 mk(g,'line',{x1:88,x2:325,y1:Y(0),y2:Y(0),stroke:'#444','stroke-dasharray':'6,4'},'zero-line');
 function pts(vals,cx,c,nm,bw){var bins={};for(var i=0;i<vals.length;i++){var b=Math.round(vals[i]/bw);bins[b]=(bins[b]||0)+1;var k=bins[b]-1;var off=(k%2?1:-1)*Math.ceil(k/2)*14;
  mk(g,'circle',{cx:cx+off,cy:Y(vals[i]),r:5.5,fill:'none',stroke:c,'stroke-width':1.8},nm);}}
 pts(gNormal,153,'#333','normal-point',0.3);pts(gAML,255,'#f0a020','aml-point',0.15);
 mk(g,'line',{x1:120,x2:186,y1:Y(gMeans[0]),y2:Y(gMeans[0]),stroke:'#111','stroke-width':2},'mean-line-normal');
 mk(g,'line',{x1:220,x2:290,y1:Y(gMeans[1]),y2:Y(gMeans[1]),stroke:'#111','stroke-width':2},'mean-line-aml');
 for(var i=0;i<gYTicks.length;i++){var y=Y(gYTicks[i]);mk(g,'line',{x1:83,x2:88,y1:y,y2:y,stroke:'#222'},'y-tick-g');mk(g,'text',{x:73,y:y+5,'font-size':14,'text-anchor':'end'},'y-tick-label-g',gYTicks[i]<0?'−'+(-gYTicks[i]):gYTicks[i]);}
})();

/* ---------- Panel h data ---------- */
var hNormLev=[0,300,700,1000,1500,2000,3000,4000,5000,6000,6700];
var hNormDen=[0.5,0.95,1,0.9,0.55,0.35,0.2,0.1,0.05,0.02,0];
var hAMLLev=[0,700,1200,1600,2000,2500,3000,4000,5000,7000,10000,13000,16600];
var hAMLDen=[0.1,0.5,0.8,0.95,1,0.8,0.55,0.3,0.15,0.08,0.05,0.03,0];
var hNormQ=[500,1000,2000];
var hAMLQ=[1500,2000,3000];
var hYTicks=[0,5000,10000,15000,20000];
var hYLabels=['0','5,000','10,000','15,000','20,000'];
(function(){
 var g=G('gh'); var Y=function(v){return 1273-v*0.01135;};
 mk(g,'line',{x1:428,x2:428,y1:1047,y2:1273,stroke:'#222'},'y-axis-h');
 function vio(L,D,cx,w,c,nm){var d='';for(var i=0;i<L.length;i++)d+=(i?'L':'M')+(cx+D[i]*w)+','+Y(L[i]);for(var i=L.length-1;i>=0;i--)d+='L'+(cx-D[i]*w)+','+Y(L[i]);d+='Z';
  mk(g,'path',{d:d,fill:'none',stroke:c,'stroke-width':2},nm);}
 vio(hNormLev,hNormDen,498,33,'#2348e0','violin-normal');vio(hAMLLev,hAMLDen,602,36,'#f03860','violin-aml');
 for(var i=0;i<3;i++){mk(g,'line',{x1:475,x2:521,y1:Y(hNormQ[i]),y2:Y(hNormQ[i]),stroke:'#2348e0','stroke-dasharray':'3,2','stroke-width':1.5},'quartile-normal');
  mk(g,'line',{x1:570,x2:634,y1:Y(hAMLQ[i]),y2:Y(hAMLQ[i]),stroke:'#f03860','stroke-dasharray':'3,2','stroke-width':1.5},'quartile-aml');}
 for(var i=0;i<hYTicks.length;i++){var y=Y(hYTicks[i]);mk(g,'line',{x1:423,x2:428,y1:y,y2:y,stroke:'#222'},'y-tick-h');mk(g,'text',{x:419,y:y+5,'font-size':14,'text-anchor':'end'},'y-tick-label-h',hYLabels[i]);}
})();

/* ---------- Panel i data ---------- */
var iLines=['Normal1','Normal2','Nalm6','Sup-B15','Jurkat','HuT78','Kasumi-1','HL-60','OCI-AML2','OCI-AML3','THP-1','Molm-13','Ku812','Raji'];
var iValues=[0.8,1.8,3.4,1.5,1.3,19.6,7.5,2.7,1.6,2.0,0.3,2.6,4.5,6.1];
var iErr=[0.1,0.1,0.2,0.1,0.1,0.4,0.3,0.1,0.1,0.1,0.1,0.1,0.3,0.2];
var iColors=['#e4e4e4','#e4e4e4','#6c7cf5','#6c7cf5','#6c7cf5','#6c7cf5','#f6839c','#f6839c','#f6839c','#f6839c','#f6839c','#f6839c','#a9c4ef','#a9c4ef'];
var iYTicks=[0,5,10,15,20,25];
(function(){
 var g=G('gi'); var Y=function(v){return 1273-v*9.6;};
 mk(g,'line',{x1:767,x2:767,y1:1033,y2:1273,stroke:'#222'},'y-axis-i');
 mk(g,'line',{x1:767,x2:1240,y1:1273,y2:1273,stroke:'#222'},'x-axis-i');
 for(var i=0;i<iValues.length;i++){var x=788+i*33.4;
  mk(g,'rect',{x:x-9,y:Y(iValues[i]),width:18,height:1273-Y(iValues[i]),fill:iColors[i]},'bar-'+iLines[i].toLowerCase());
  mk(g,'line',{x1:x,x2:x,y1:Y(iValues[i]+iErr[i]),y2:Y(iValues[i]-iErr[i]),stroke:'#333'},'error-bar');
  mk(g,'line',{x1:x-4,x2:x+4,y1:Y(iValues[i]+iErr[i]),y2:Y(iValues[i]+iErr[i]),stroke:'#333'},'error-cap');
  for(var k=-1;k<=1;k++) mk(g,'circle',{cx:x+k*3.5,cy:Y(iValues[i]),r:1.8,fill:'#fff',stroke:'#555','stroke-width':0.8},'replicate-point');}
 for(var i=0;i<iYTicks.length;i++){var y=Y(iYTicks[i]);mk(g,'line',{x1:762,x2:767,y1:y,y2:y,stroke:'#222'},'y-tick-i');mk(g,'text',{x:758,y:y+5,'font-size':14,'text-anchor':'end'},'y-tick-label-i',iYTicks[i]);}
})();

/* ---------- Panel j data ---------- */
var jLeftLanes=['hHSPC1','hHSPC2','Patient 1','Patient 2','Patient 3','Patient 4','Patient 5','Patient 6'];
var jLeftFBL=[0.55,0.6,0.95,0.95,0.9,0.8,0.9,1.0];
var jLeftTub=[0.95,0.9,0.9,0.85,0.75,0.7,0.95,1.0];
var jRightLanes=['7327-HSPC','7551-HSPC','Nalm6','Sup-B15','Jurkat','HuT78','Kasumi-1','HL-60','OCI-AML2','OCI-AML3','THP-1','Molm-13','Ku812','Raji'];
var jRightFBL=[0.15,0.55,1.0,0.7,0.9,0.85,0.9,0.85,0.7,0.65,0.45,0.9,0.85,0.8];
var jRightTub=[0.85,0.8,1.0,0.95,0.95,0.95,0.95,0.9,0.9,0.95,1.0,0.95,0.95,0.95];
(function(){
 var g=G('gj');
 function box(x,y,w,h,nm){mk(g,'rect',{x:x,y:y,width:w,height:h,fill:'#fff',stroke:'#111','stroke-width':1.5},nm);}
 box(90,1430,490,67,'blot-left-fbl');box(90,1501,490,64,'blot-left-tubulin');
 box(746,1432,506,68,'blot-right-fbl');box(746,1503,506,62,'blot-right-tubulin');
 function bands(lanes,vals,x0,step,y,w,nm){for(var i=0;i<lanes.length;i++){var v=vals[i];var c=Math.round(230-v*215);
  mk(g,'ellipse',{cx:x0+i*step,cy:y,rx:w,ry:3+v*4,fill:'rgb('+c+','+c+','+c+')',filter:'url(#blur)'},nm);}}
 bands(jLeftLanes,jLeftFBL,143,53,1468,25,'fbl-band');bands(jLeftLanes,jLeftTub,143,53,1531,25,'tubulin-band');
 bands(jRightLanes,jRightFBL,785,33.4,1463,15,'fbl-band');bands(jRightLanes,jRightTub,785,33.4,1531,15,'tubulin-band');
 for(var i=0;i<jLeftLanes.length;i++){var x=148+i*53;mk(g,'text',{x:x,y:1425,'font-size':15,transform:'rotate(-90 '+x+' 1425)',fill:i<2?'#f0507a':'#222'},'lane-label',jLeftLanes[i]);}
 for(var i=0;i<jRightLanes.length;i++){var x=791+i*33.4;mk(g,'text',{x:x,y:1425,'font-size':15,transform:'rotate(-90 '+x+' 1425)',fill:i<2?'#f0507a':'#222'},'lane-label',jRightLanes[i]);}
 var mk1=[[40,1439],[35,1486],[55,1530],[40,1557]],mk2=[[40,1441],[35,1488],[55,1532],[40,1559]];
 for(var i=0;i<4;i++){mk(g,'line',{x1:580,x2:588,y1:mk1[i][1],y2:mk1[i][1],stroke:'#222'},'kda-tick');mk(g,'text',{x:603,y:mk1[i][1]+5,'font-size':14},'kda-label',mk1[i][0]);
  mk(g,'line',{x1:1252,x2:1260,y1:mk2[i][1],y2:mk2[i][1],stroke:'#222'},'kda-tick');mk(g,'text',{x:1267,y:mk2[i][1]+5,'font-size':14},'kda-label',mk2[i][0]);}
})();
</script>
</body></html>
